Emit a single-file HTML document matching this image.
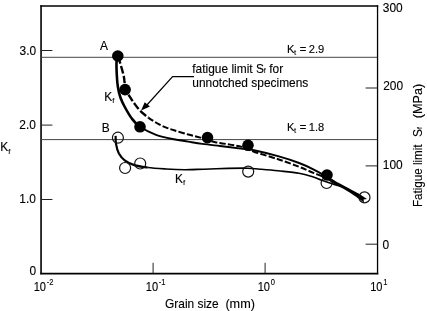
<!DOCTYPE html>
<html><head><meta charset="utf-8"><title>Kf vs grain size</title>
<style>
html,body{margin:0;padding:0;background:#fff}
svg{display:block}
text{font-family:"Liberation Sans",Arial,sans-serif;font-size:12.3px;fill:#000;stroke:#000;stroke-width:0.12px}
.sub{font-size:8px}
.sf{font-size:7.5px}
</style></head><body>
<svg width="427" height="311" viewBox="0 0 427 311">
<rect width="427" height="311" fill="#fff"/>
<!-- frame -->
<g stroke="#000" stroke-linecap="square">
<line x1="41.05" y1="6" x2="41.05" y2="273.5" stroke-width="1.6"/>
<line x1="41.05" y1="273.6" x2="377.5" y2="273.6" stroke-width="1.6"/>
<line x1="41.05" y1="6" x2="377.5" y2="6" stroke-width="1.4"/>
<line x1="377.55" y1="6" x2="377.55" y2="273.5" stroke-width="1.3"/>
</g>
<!-- reference lines and ticks -->
<g stroke="#222" stroke-width="1">
<line x1="41" y1="57.3" x2="377" y2="57.3" stroke="#444"/>
<line x1="41" y1="139.6" x2="377" y2="139.6" stroke="#444"/>
<line x1="41" y1="50.5" x2="52.4" y2="50.5"/>
<line x1="41" y1="125.1" x2="52.4" y2="125.1"/>
<line x1="41" y1="199.5" x2="52.4" y2="199.5"/>
<line x1="365.6" y1="88" x2="377" y2="88"/>
<line x1="365.6" y1="165.9" x2="377" y2="165.9"/>
<line x1="365.6" y1="244.2" x2="377" y2="244.2"/>
<line x1="153.1" y1="262.8" x2="153.1" y2="273"/>
<line x1="265.1" y1="262.8" x2="265.1" y2="273"/>
</g>
<path d="M117.3 58.0C117.2 58.8 116.6 60.2 116.5 63.0C116.4 65.8 116.6 71.0 116.8 75.0C117.0 79.0 117.3 83.2 117.9 87.0C118.5 90.8 119.4 94.7 120.6 98.0C121.8 101.3 122.9 103.5 124.8 107.0C126.7 110.5 129.5 115.5 132.0 118.8C134.5 122.1 136.0 124.1 140.0 126.8" fill="none" stroke="#000" stroke-width="2.6"/>
<path d="M140.0 126.8C144.0 129.5 150.3 132.7 156.0 134.8C161.7 136.9 168.6 138.2 174.0 139.3C179.4 140.4 183.6 140.8 188.3 141.6C193.0 142.4 197.1 143.2 202.4 143.9C207.7 144.6 213.2 145.2 220.0 146.0C226.8 146.8 237.3 148.2 243.0 148.9C248.7 149.6 248.2 149.1 254.0 150.3C259.8 151.5 270.5 154.1 278.0 156.2C285.5 158.3 293.2 160.8 299.1 163.0C305.0 165.2 308.7 167.0 313.3 169.3C317.9 171.6 323.6 175.0 327.0 177.0C330.4 179.0 332.8 180.7 334.0 181.4" fill="none" stroke="#000" stroke-width="1.9"/>
<path d="M118.5 58.0C118.8 58.8 119.4 60.2 120.2 63.0C121.0 65.8 122.8 72.0 123.5 75.0C124.2 78.0 124.1 78.3 124.4 80.7C124.8 83.1 124.5 86.6 125.6 89.6C126.7 92.6 129.8 96.5 131.2 98.8C132.6 101.1 132.8 101.4 134.2 103.3C135.6 105.2 137.5 108.0 139.8 110.4C142.2 112.8 145.5 115.5 148.3 117.6" fill="none" stroke="#000" stroke-width="2.4" stroke-dasharray="7.7 2.3" stroke-dashoffset="1.6"/>
<path d="M148.3 117.6C151.1 119.7 153.9 121.4 156.7 123.0C159.5 124.6 162.1 125.9 165.0 127.1C167.9 128.3 170.2 129.1 174.1 130.3C178.0 131.5 183.9 133.3 188.3 134.5C192.7 135.7 196.1 136.4 200.3 137.6C204.5 138.8 210.2 140.9 213.5 141.8C216.8 142.7 215.3 142.1 220.0 142.9C224.7 143.8 236.0 145.4 241.7 146.9C247.4 148.4 247.9 149.6 254.0 151.7C260.1 153.8 270.8 156.8 278.3 159.3C285.8 161.8 293.3 164.6 299.1 166.8C304.9 169.1 308.7 170.9 313.3 172.8C317.9 174.7 323.6 176.6 327.0 178.2" fill="none" stroke="#000" stroke-width="2.0" stroke-dasharray="6.3 2.2" stroke-dashoffset="0.4"/>
<path d="M327.0 178.2C330.4 179.8 332.8 181.6 334.0 182.3" fill="none" stroke="#000" stroke-width="2.9"/>
<path d="M115.6 135.8C115.7 137.2 115.5 141.0 116.0 143.9C116.5 146.8 117.5 150.8 118.9 153.5C120.4 156.2 122.1 158.4 124.7 160.3C127.3 162.2 130.5 163.9 134.3 165.1C138.2 166.3 142.5 166.8 147.8 167.5" fill="none" stroke="#000" stroke-width="2.2"/>
<path d="M147.8 167.5C153.1 168.2 159.8 168.6 166.0 169.0C172.2 169.4 178.7 169.7 185.0 169.7C191.3 169.7 196.8 169.4 204.0 169.2C211.2 169.0 220.7 168.6 228.0 168.4C235.3 168.2 242.7 168.1 248.0 168.2C253.3 168.3 255.0 168.8 260.0 169.2C265.0 169.6 271.5 170.1 278.0 170.8C284.5 171.5 293.1 172.2 299.0 173.2C304.9 174.2 309.5 175.8 313.3 177.0C317.1 178.2 318.5 179.2 321.8 180.3C325.1 181.5 330.3 183.0 333.0 183.9C335.7 184.8 337.2 185.3 338.0 185.6" fill="none" stroke="#000" stroke-width="1.6"/>
<path d="M329.0 177.6C329.5 177.9 330.2 178.2 332.2 179.3C334.2 180.4 337.6 182.3 340.9 184.1C344.2 185.9 348.6 188.3 351.9 190.1C355.2 191.9 358.1 193.2 360.6 194.7C363.1 196.2 365.9 198.2 367.0 198.9 L363.6 199.6 L364.0 202.6C363.2 202.1 361.5 200.7 359.5 199.3C357.5 197.9 355.0 195.9 351.9 194.0C348.8 192.1 343.7 189.1 340.9 187.6C338.1 186.1 336.6 185.9 335.0 184.8C333.4 183.7 331.7 181.6 331.0 181.0 Z" fill="#000"/>
<circle cx="117.9" cy="137.7" r="5.5" fill="none" stroke="#111" stroke-width="1.2"/>
<circle cx="125.1" cy="168.0" r="5.5" fill="none" stroke="#111" stroke-width="1.2"/>
<circle cx="140.2" cy="163.5" r="5.5" fill="none" stroke="#111" stroke-width="1.2"/>
<circle cx="248.2" cy="171.6" r="5.5" fill="none" stroke="#111" stroke-width="1.2"/>
<circle cx="326.6" cy="183.0" r="5.5" fill="none" stroke="#111" stroke-width="1.2"/>
<circle cx="364.5" cy="197.4" r="5.5" fill="none" stroke="#111" stroke-width="1.2"/>
<circle cx="117.8" cy="56.0" r="5.8" fill="#000"/>
<circle cx="125.1" cy="89.6" r="5.8" fill="#000"/>
<circle cx="140.0" cy="126.8" r="5.8" fill="#000"/>
<circle cx="207.5" cy="137.6" r="5.8" fill="#000"/>
<circle cx="248.0" cy="145.3" r="5.8" fill="#000"/>
<circle cx="327.0" cy="175.0" r="5.8" fill="#000"/>
<!-- leader arrow -->
<path d="M194 76.6H172.6L146 106" fill="none" stroke="#000" stroke-width="1.2"/>
<path d="M141.1 110.4L144.7 102.2L150 106.6Z" fill="#000"/>
<!-- labels -->
<text transform="translate(19.6 54.7) scale(0.970 1)">3.0</text>
<text transform="translate(19.3 128.9) scale(0.970 1)">2.0</text>
<text transform="translate(19.3 203.3) scale(0.970 1)">1.0</text>
<text transform="translate(29.6 274.9) scale(0.970 1)">0</text>
<text transform="translate(0.3 151.4) scale(0.970 1)">K<tspan class="sub" dy="2.4">f</tspan></text>
<text transform="translate(382.8 11.7) scale(0.970 1)">300</text>
<text transform="translate(383.2 90.2) scale(0.970 1)">200</text>
<text transform="translate(382.8 168.7) scale(0.970 1)">100</text>
<text transform="translate(382.6 248.7) scale(0.970 1)">0</text>
<text transform="translate(33.7 290.5) scale(0.900 1)">10</text>
<text transform="translate(46.7 285.1) scale(0.880 1)" style="font-size:8.6px">-2</text>
<text transform="translate(145.8 290.5) scale(0.900 1)">10</text>
<text transform="translate(158.8 285.1) scale(0.880 1)" style="font-size:8.6px">-1</text>
<text transform="translate(257.7 290.5) scale(0.900 1)">10</text>
<text transform="translate(270.7 285.1) scale(0.880 1)" style="font-size:8.6px">0</text>
<text transform="translate(370.2 290.5) scale(0.900 1)">10</text>
<text transform="translate(383.2 285.1) scale(0.880 1)" style="font-size:8.6px">1</text>
<text transform="translate(165.0 308.2) scale(0.970 1)">Grain size</text>
<text transform="translate(225.4 308.2) scale(1.030 1)">(mm)</text>
<text transform="translate(100.0 50.1) scale(0.970 1)">A</text>
<text transform="translate(101.8 132.1) scale(0.970 1)">B</text>
<text transform="translate(104.2 100.9) scale(0.970 1)">K<tspan class="sub" dy="2.4">f</tspan></text>
<text transform="translate(175.0 182.8) scale(0.970 1)">K<tspan class="sub" dy="2.4">f</tspan></text>
<text transform="translate(286.9 52.8) scale(0.970 1)" style="font-size:11.5px">K<tspan class="sub" dy="2.2" dx="-0.3">t</tspan><tspan dy="-2.2" dx="3.6">=</tspan><tspan dx="2.6">2.9</tspan></text>
<text transform="translate(286.9 131.0) scale(0.970 1)" style="font-size:11.5px">K<tspan class="sub" dy="2.2" dx="-0.3">t</tspan><tspan dy="-2.2" dx="3.6">=</tspan><tspan dx="2.6">1.8</tspan></text>
<text transform="translate(192.3 72.5) scale(0.970 1)">fatigue limit S<tspan class="sf">f</tspan><tspan dx="3.4">for</tspan></text>
<text transform="translate(192.3 87.2) scale(0.970 1)">unnotched specimens</text>
<text transform="translate(422.3 207.0) rotate(-90) scale(0.945 1)">Fatigue limit</text>
<text transform="translate(422.3 137.0) rotate(-90) scale(0.970 1)">S<tspan class="sf">f</tspan></text>
<text transform="translate(422.3 118.2) rotate(-90) scale(1.030 1)">(MPa)</text>
</svg>
</body></html>
